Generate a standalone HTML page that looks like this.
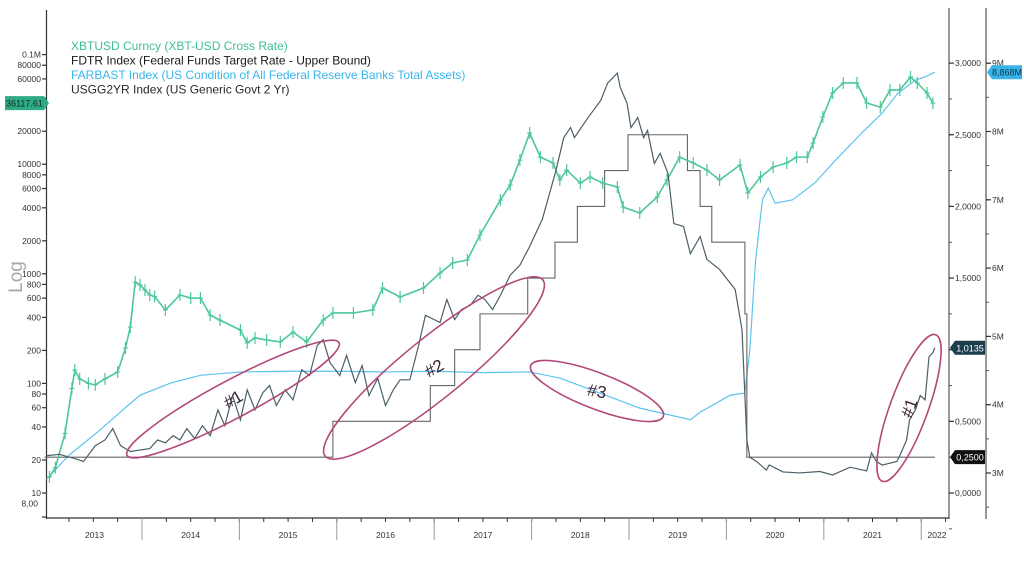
<!DOCTYPE html>
<html><head><meta charset="utf-8"><style>
html,body{margin:0;padding:0;background:#fff;}
svg{display:block;font-family:"Liberation Sans",sans-serif;}
</style></head><body>
<svg id="chart" width="1024" height="577" viewBox="0 0 1024 577">
<g id="axes"></g><g id="series"></g><g id="annot"></g><g id="labels"></g>
</svg>
<script>
// ---- data ----
const btcDates=[2013.05,2013.11,2013.21,2013.28,2013.31,2013.36,2013.45,2013.52,2013.62,2013.75,2013.83,2013.88,2013.93,2013.98,2014.03,2014.08,2014.13,2014.24,2014.39,2014.50,2014.60,2014.70,2014.80,2015.01,2015.08,2015.16,2015.28,2015.42,2015.55,2015.69,2015.86,2015.96,2016.17,2016.37,2016.47,2016.65,2016.89,2017.06,2017.19,2017.34,2017.47,2017.68,2017.78,2017.88,2017.98,2018.09,2018.22,2018.29,2018.36,2018.50,2018.60,2018.73,2018.88,2018.94,2019.11,2019.29,2019.39,2019.52,2019.66,2019.80,2019.93,2020.14,2020.22,2020.35,2020.48,2020.62,2020.72,2020.83,2020.89,2020.99,2021.09,2021.20,2021.34,2021.44,2021.58,2021.68,2021.78,2021.89,2021.96,2022.06,2022.12];
const btcValues=[14,17,35,90,132,110,100,97,110,127,210,327,840,790,712,641,620,468,641,601,601,420,378,307,234,260,249,239,294,239,378,439,439,468,742,614,742,1016,1255,1337,2260,4710,6460,10900,19300,11600,10260,7180,8850,6730,7640,6730,6190,4060,3590,5020,7180,11600,10260,8850,7180,9840,5460,7640,9420,10260,11600,11600,15600,27000,44700,55100,55100,36200,33200,47500,47500,62500,55100,44700,36117.61];
const fdtrDates=[2013.0,2015.96,2016.96,2017.21,2017.47,2017.96,2018.24,2018.47,2018.75,2018.99,2019.60,2019.73,2019.85,2020.19,2020.21,2022.14];
const fdtrValues=[0.25,0.5,0.75,1.0,1.25,1.5,1.75,2.0,2.25,2.5,2.25,2.0,1.75,1.25,0.25,0.25];
const fedDates=[2013.02,2013.25,2013.57,2013.80,2013.98,2014.30,2014.60,2015.01,2015.5,2016.0,2016.5,2017.0,2017.5,2017.98,2018.29,2018.70,2019.11,2019.63,2019.73,2020.04,2020.19,2020.24,2020.30,2020.37,2020.43,2020.50,2020.68,2020.91,2021.12,2021.39,2021.60,2021.76,2021.94,2022.04,2022.14];
const fedValues=[2.91,3.26,3.63,3.92,4.14,4.32,4.43,4.48,4.49,4.49,4.48,4.49,4.47,4.48,4.39,4.17,3.95,3.78,3.89,4.14,4.17,4.8,6.12,7.0,7.17,6.95,7.0,7.25,7.58,7.98,8.27,8.56,8.75,8.8,8.868];
const y2Dates=[2013.02,2013.15,2013.31,2013.40,2013.52,2013.62,2013.70,2013.78,2013.88,2014.08,2014.16,2014.24,2014.32,2014.39,2014.46,2014.54,2014.62,2014.70,2014.78,2014.85,2014.93,2015.01,2015.08,2015.16,2015.24,2015.31,2015.38,2015.47,2015.55,2015.64,2015.72,2015.80,2015.86,2015.93,2016.03,2016.10,2016.19,2016.26,2016.33,2016.42,2016.50,2016.58,2016.65,2016.75,2016.84,2016.91,2017.00,2017.06,2017.13,2017.21,2017.28,2017.37,2017.45,2017.52,2017.60,2017.68,2017.78,2017.88,2017.98,2018.11,2018.25,2018.33,2018.40,2018.44,2018.58,2018.71,2018.78,2018.88,2018.91,2018.98,2019.02,2019.09,2019.15,2019.19,2019.26,2019.32,2019.40,2019.46,2019.56,2019.63,2019.73,2019.80,2019.93,2020.09,2020.16,2020.21,2020.24,2020.31,2020.41,2020.44,2020.58,2020.75,2020.96,2021.09,2021.27,2021.44,2021.49,2021.54,2021.60,2021.75,2021.78,2021.85,2021.88,2021.94,2021.99,2022.04,2022.08,2022.12,2022.14];
const y2Values=[0.26,0.27,0.24,0.22,0.33,0.37,0.45,0.33,0.29,0.31,0.37,0.35,0.40,0.37,0.45,0.38,0.47,0.40,0.58,0.47,0.68,0.51,0.72,0.58,0.70,0.75,0.61,0.72,0.65,0.86,0.82,1.03,1.07,0.91,0.82,0.96,0.77,0.89,0.68,0.80,0.61,0.72,0.79,0.79,1.03,1.24,1.21,1.19,1.35,1.21,1.28,1.31,1.38,1.35,1.28,1.38,1.52,1.59,1.72,1.91,2.25,2.48,2.55,2.48,2.62,2.74,2.86,2.93,2.83,2.72,2.55,2.62,2.48,2.53,2.30,2.37,2.23,1.88,1.86,1.67,1.79,1.63,1.56,1.42,1.14,0.37,0.25,0.22,0.16,0.196,0.147,0.14,0.15,0.126,0.18,0.154,0.28,0.22,0.195,0.22,0.26,0.37,0.51,0.58,0.68,0.65,0.95,0.98,1.0135];
const leftTicks=[10,20,40,60,80,100,200,400,600,800,1000,2000,4000,6000,8000,10000,20000,40000,60000,80000,100000];
const leftLabels=["10","20","40","60","80","100","200","400","600","800","1000","2000","4000","6000","8000","10000","20000","","60000","80000","0.1M"];
const rateTicks=[0,0.5,1.0,1.5,2.0,2.5,3.0];
const rateLabels=["0,0000","0,5000","","1,5000","2,0000","2,5000","3,0000"];
const assetTicks=[3,4,5,6,7,8,9];
const assetLabels=["3M","4M","5M","6M","7M","8M","9M"];
const years=[2013,2014,2015,2016,2017,2018,2019,2020,2021,2022];

// ---- scales ----
const X=t=>142+(t-2014)*97.4;
const YL=v=>493-109.6*Math.log10(v/10);
const YR=r=>493-143.3*r;
const YA=m=>473-68.3*(m-3);
const NS='http://www.w3.org/2000/svg';
function mk(tag,attrs,parent,text){const e=document.createElementNS(NS,tag);for(const k in attrs)e.setAttribute(k,attrs[k]);if(text!==undefined)e.textContent=text;parent.appendChild(e);return e;}
const axes=document.getElementById('axes'),series=document.getElementById('series'),annot=document.getElementById('annot'),labels=document.getElementById('labels');

// left axis
let a=mk('line',{x1:46.5,y1:10,x2:46.5,y2:519,stroke:'#333','stroke-width':1.2},axes);

leftTicks.forEach((v,i)=>{const y=YL(v);
 mk('line',{x1:42,y1:y,x2:47,y2:y,stroke:'#333','stroke-width':1.2},axes);
 if(leftLabels[i]){const t=mk('text',{x:41,y:y+3,'font-size':8.5,'text-anchor':'end',fill:'#333'},axes,leftLabels[i]);
 }});
mk('text',{x:38,y:YL(8)+3,'font-size':8.5,'text-anchor':'end',fill:'#333'},axes,'8,00');
mk('line',{x1:42,y1:517,x2:47,y2:517,stroke:'#333','stroke-width':1.2},axes);
let lg=mk('text',{x:0,y:0,'font-size':19,fill:'#aaa',transform:'translate(22,277) rotate(-90)','text-anchor':'middle'},axes,'Log');


// right rate axis
a=mk('line',{x1:949,y1:8,x2:949,y2:519,stroke:'#777','stroke-width':1.5},axes);

for(let r=-0.25;r<=3.01;r+=0.25){mk('line',{x1:949,y1:YR(r),x2:952,y2:YR(r),stroke:'#555','stroke-width':1},axes);}
rateTicks.forEach((v,i)=>{const y=YR(v);mk('line',{x1:949,y1:y,x2:954,y2:y,stroke:'#333','stroke-width':1.2},axes);
 if(rateLabels[i]){const t=mk('text',{x:955,y:y+3,'font-size':8.5,fill:'#333'},axes,rateLabels[i]);
 }});
// right asset axis
a=mk('line',{x1:986,y1:8,x2:986,y2:519,stroke:'#777','stroke-width':1.5},axes);

for(let m=2.5;m<=9.01;m+=0.5){if(YA(m)<519)mk('line',{x1:986,y1:YA(m),x2:989,y2:YA(m),stroke:'#555','stroke-width':1},axes);}
assetTicks.forEach((v,i)=>{const y=YA(v);mk('line',{x1:986,y1:y,x2:991,y2:y,stroke:'#333','stroke-width':1.2},axes);
 const t=mk('text',{x:992,y:y+3,'font-size':8.5,fill:'#333'},axes,assetLabels[i]);
 });

// bottom axis
a=mk('line',{x1:46,y1:518,x2:949,y2:518,stroke:'#333','stroke-width':1.2},axes);

for(let q=2013.25;q<2022.3;q+=0.25){const x=X(q);if(x>47&&x<949)mk('line',{x1:x,y1:518,x2:x,y2:522,stroke:'#333','stroke-width':1},axes);}
years.forEach(y=>{const x0=X(y);if(y>2013)mk('line',{x1:x0,y1:518,x2:x0,y2:540,stroke:'#999','stroke-width':1},axes);
 const xc=y===2022?937:(Math.max(47,x0)+X(y+1))/2;
 const t=mk('text',{x:xc,y:538,'font-size':8.5,'text-anchor':'middle',fill:'#333'},axes,String(y));
 });

// series
function path(ds,vs,sc,step){let d='';ds.forEach((t,i)=>{const x=X(t),y=sc(vs[i]);
 if(i===0)d+='M'+x+' '+y;else if(step)d+='H'+x+'V'+y;else d+='L'+x+' '+y;});return d;}
let p=mk('path',{d:path(fedDates,fedValues,YA),fill:'none',stroke:'#5cc3ee','stroke-width':1.2},series);

p=mk('path',{d:path(fdtrDates,fdtrValues,YR,true),fill:'none',stroke:'#666','stroke-width':1.1},series);

const bg=mk('g',{},series);
p=mk('path',{d:path(btcDates,btcValues,YL,false),fill:'none',stroke:'#4cc79a','stroke-width':1.6},bg);

btcDates.forEach((t,i)=>{const x=X(t),y=YL(btcValues[i]);
 const b=mk('line',{x1:x,y1:y-6,x2:x,y2:y+6,stroke:'#4cc79a','stroke-width':1.2},bg);
 
 mk('line',{x1:x-2.5,y1:y,x2:x+2.5,y2:y,stroke:'#4cc79a','stroke-width':1.1},bg);});
p=mk('path',{d:path(y2Dates,y2Values,YR),fill:'none',stroke:'#4b5f68','stroke-width':1.2},series);


// annotations
const ells=[[233,399,120,19,-28,'#1',-30,'ellipse-1-left'],[434,368,140,30,-39,'#2',-30,'ellipse-2'],[597,391,71,18,21,'#3',10,'ellipse-3'],[909,408,78,19,-70,'#1',-70,'ellipse-1-right']];
ells.forEach(e=>{const g=mk('g',{},annot);
 mk('ellipse',{cx:0,cy:0,rx:e[2],ry:e[3],fill:'none',stroke:'#b2477a','stroke-width':1.6,transform:`translate(${e[0]},${e[1]}) rotate(${e[4]})`},g);
 mk('text',{x:0,y:6,'font-size':17,'text-anchor':'middle',fill:'#3a2030',transform:`translate(${e[0]},${e[1]}) rotate(${e[6]})`},g,e[5]);});

// legend
const leg=[['XBTUSD Curncy (XBT-USD Cross Rate)','#3dbf92'],['FDTR Index (Federal Funds Target Rate - Upper Bound)','#1a1a1a'],['FARBAST Index (US Condition of All Federal Reserve Banks Total Assets)','#38b6ea'],['USGG2YR Index (US Generic Govt 2 Yr)','#2a2a2a']];
leg.forEach((l,i)=>{const t=mk('text',{x:71,y:50+i*14.5,'font-size':12,fill:l[1]},labels,l[0]);
 });

// value tags
function tag(x,y,w,txt,bgc,fg,left,name){const g=mk('g',{},labels);
 const pts=left?`${x},${y-7} ${x+w},${y-7} ${x+w+5},${y} ${x+w},${y+7} ${x},${y+7}`:`${x+5},${y-7} ${x+w},${y-7} ${x+w},${y+7} ${x+5},${y+7} ${x},${y}`;
 mk('polygon',{points:pts,fill:bgc},g);mk('text',{x:left?x+w/2:x+5+(w-5)/2,y:y+3.5,'font-size':9,'text-anchor':'middle',fill:fg},g,txt);}
tag(5,YL(btcValues[btcValues.length-1]),39,'36117.61','#2eaa84','#10302a',true,'xbtusd-last-tag');
tag(987,YA(fedValues[fedValues.length-1]),35,'8,868M','#3ab4e6','#0c3550',false,'farbast-last-tag');
tag(950,YR(y2Values[y2Values.length-1]),35,'1,0135','#1c3e4c','#fff',false,'usgg2yr-last-tag');
tag(950,YR(fdtrValues[fdtrValues.length-1]),35,'0,2500','#111','#fff',false,'fdtr-last-tag');
</script>
</body></html>
